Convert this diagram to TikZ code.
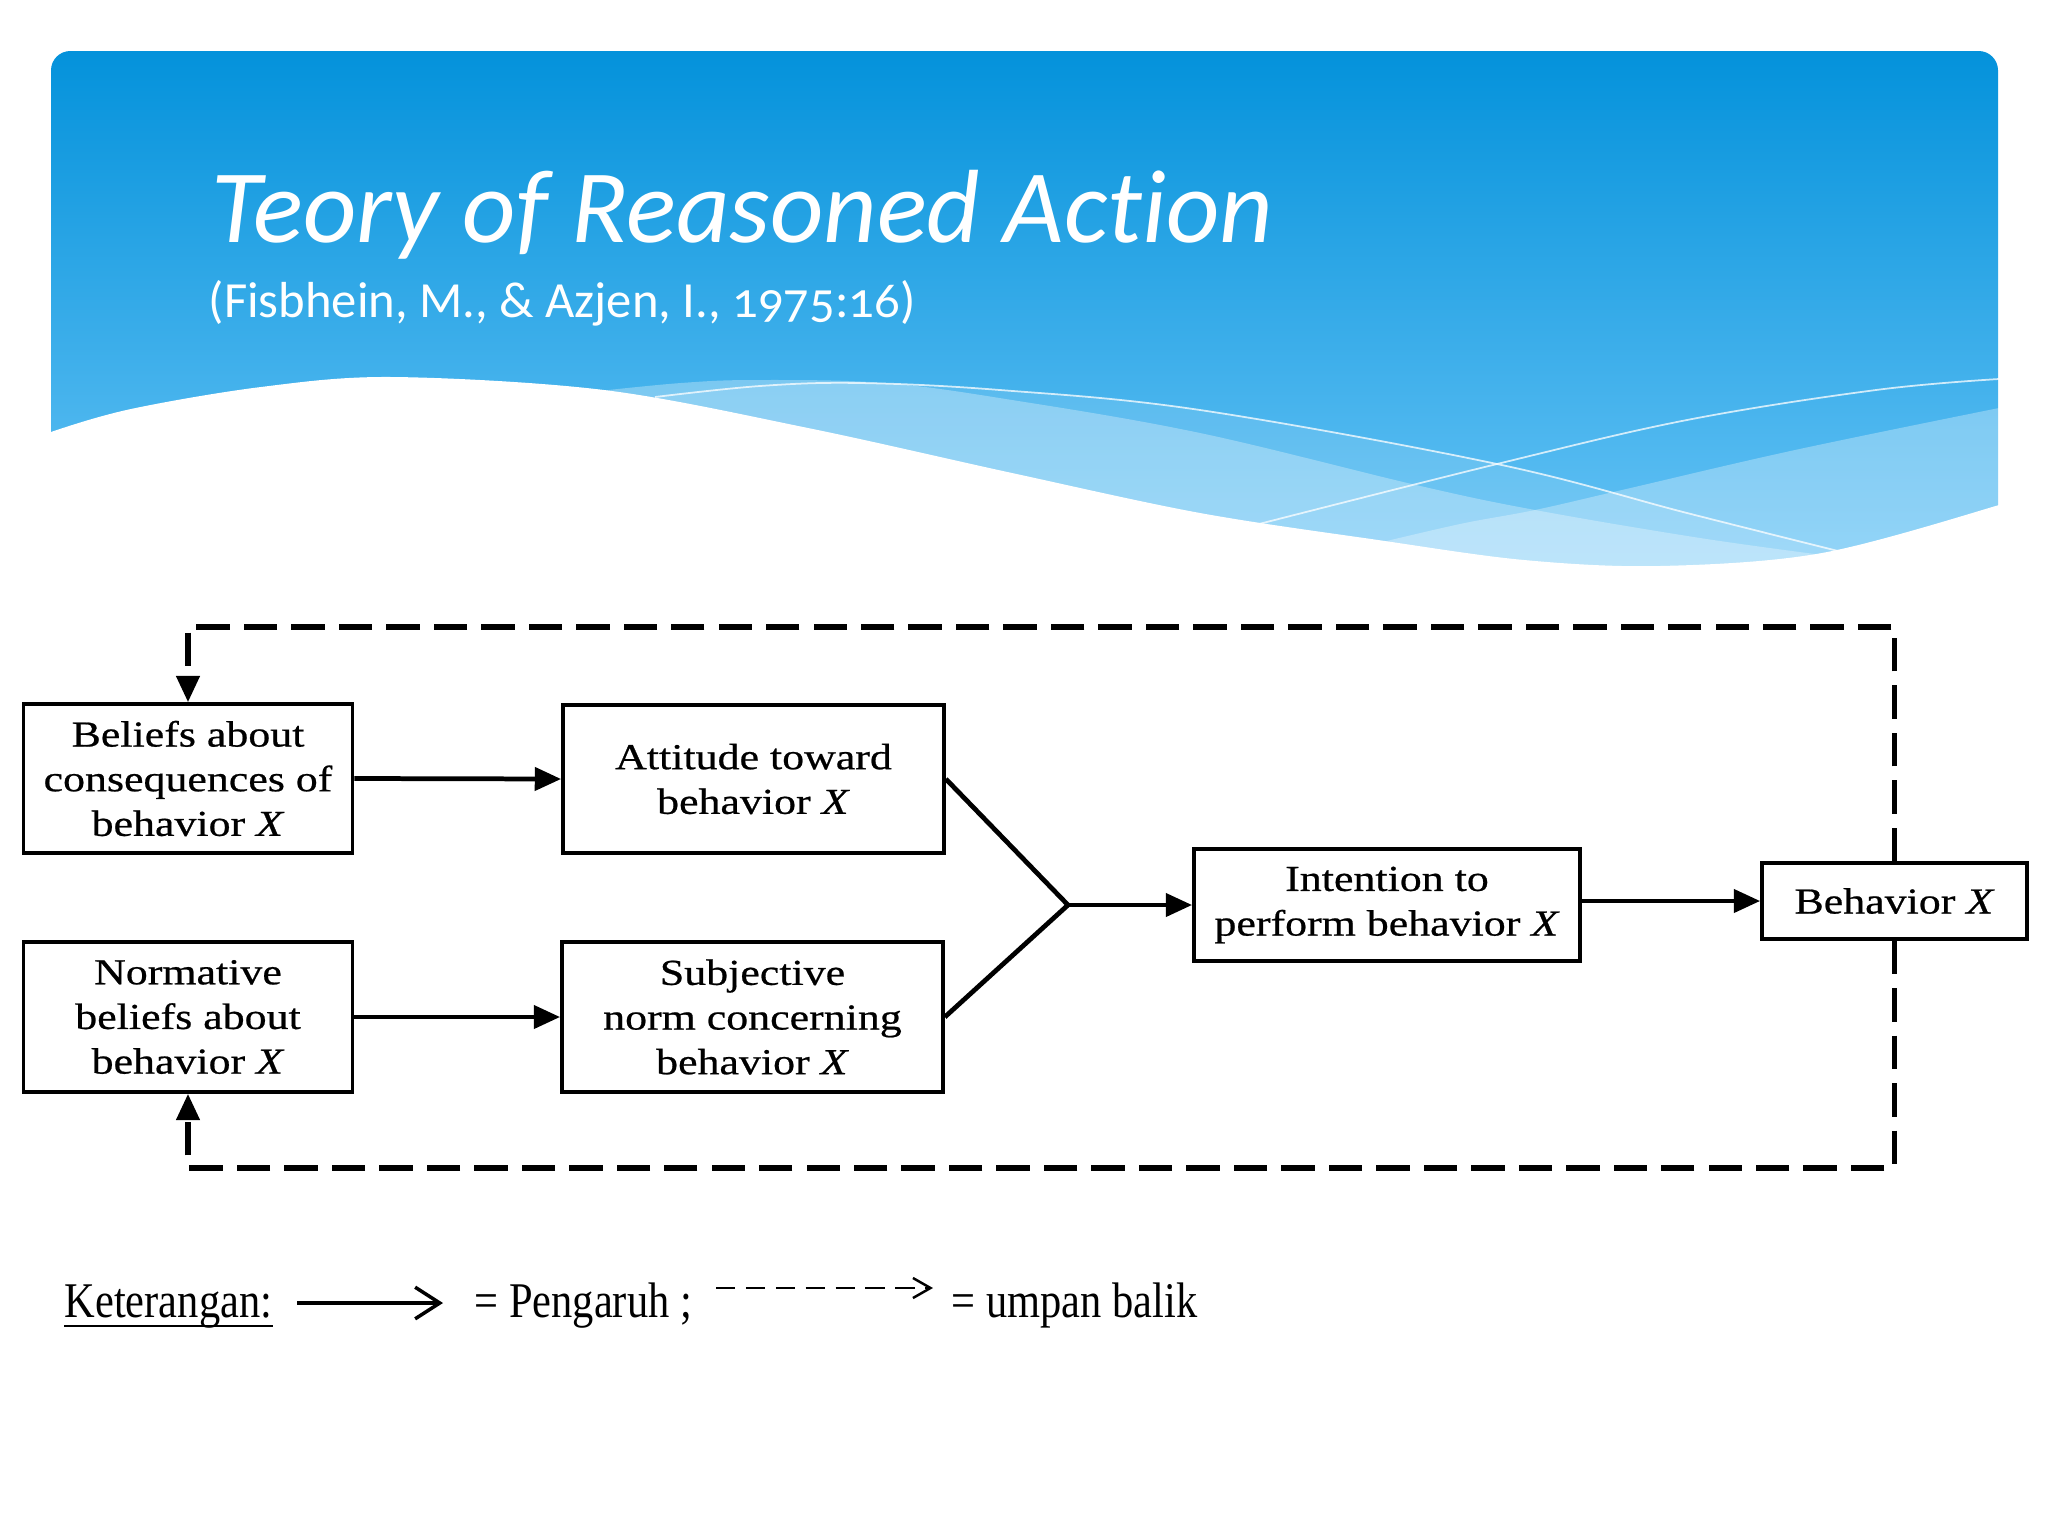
\documentclass[tikz,border=0pt]{standalone}
\usepackage{fontspec}
\usetikzlibrary{arrows.meta,calc}
\newfontfamily\diagfont[FakeStretch=1.2,FakeBold=0.6]{Liberation Serif}
\newfontfamily\legfont[FakeStretch=0.85]{Liberation Serif}
\newfontfamily\ttlfont[Ligatures=NoCommon]{Carlito}
\newfontfamily\subfont[Numbers=OldStyle,Ligatures=NoCommon]{Carlito}
\definecolor{hdtop}{RGB}{4,146,219}
\definecolor{hdbot}{RGB}{108,198,247}
\begin{document}
\begin{tikzpicture}[x=0.01cm,y=-0.01cm,
  box/.style={draw,line width=1pt,inner sep=0pt,align=center,
    font={\diagfont\fontsize{10.4pt}{12.7pt}\selectfont}},
  arr/.style={line width=1.35pt,-{Triangle[length=7.5pt,width=6.5pt]}},
  plainline/.style={line width=1.35pt},
  fb/.style={line width=1.45pt,dash pattern=on 9.5pt off 4pt},
  legtext/.style={inner sep=0pt,anchor=base west,font={\legfont\fontsize{14.2pt}{16pt}\selectfont}},
  band/.style={white,opacity=0.3},
  thin/.style={white,opacity=0.75,line width=0.5pt}]
\useasboundingbox (0,0) rectangle (2048,1536);
\fill[white] (0,0) rectangle (2048,1536);
% header
\shade[top color=hdtop,bottom color=hdbot,rounded corners=5.5pt] (51,600) -- (51,51) -- (1998,51) -- (1998,600) -- cycle;
% bands
\fill[band,opacity=0.12] plot[smooth,tension=0.6] coordinates {(655,397) (760,386) (859,383) (1000,390) (1200,410) (1497,464) (1687,513) (1838,551)} -- (1838,640) -- (655,640) -- cycle;
\fill[band] plot[smooth,tension=0.6] coordinates {(590,392) (681,383) (757,380) (885,383) (1012,400) (1200,433) (1416,485) (1535,510) (1700,538) (1830,556)} -- (1830,640) -- (590,640) -- cycle;
\fill[band] plot[smooth,tension=0.6] coordinates {(1370,545) (1460,524) (1535,510) (1622,490) (1795,450) (1999,408)} -- (1999,640) -- (1370,640) -- cycle;
\draw[thin] plot[smooth,tension=0.6] coordinates {(655,397) (760,386) (859,383) (1000,390) (1200,410) (1497,464) (1687,513) (1838,551)};
\draw[thin] plot[smooth,tension=0.6] coordinates {(1259,524) (1497,464) (1687,420) (1876,390) (1999,379)};
% white wave
\fill[white] plot[smooth,tension=0.55] coordinates {(40,440) (51,432) (131,409) (261,387) (392,377) (604,390) (808,428) (1012,473) (1200,513) (1378,540) (1524,560) (1660,566) (1822,553) (1999,505) (2010,498)} -- (2020,650) -- (30,650) -- cycle;
% titles
\node[anchor=base west,inner sep=0pt,text=white,font={\ttlfont\itshape\fontsize{29.6pt}{32pt}\selectfont}] (title) at (211,242) {Teory of Reasoned Action};
\node[anchor=base west,inner sep=0pt,text=white,font={\subfont\fontsize{14.4pt}{16pt}\selectfont}] (subtitle) at (208,317) {(Fisbhein, M., \& Azjen, I., 1975:16)};
% boxes
\node[box,minimum width=3.29cm,minimum height=1.49cm] (bel) at (188,778.5) {Beliefs about\\consequences of\\behavior \textit{X}};
\node[box,minimum width=3.81cm,minimum height=1.48cm] (att) at (753.5,779) {Attitude toward\\behavior \textit{X}};
\node[box,minimum width=3.29cm,minimum height=1.50cm] (nor) at (188,1017) {Normative\\beliefs about\\behavior \textit{X}};
\node[box,minimum width=3.81cm,minimum height=1.50cm] (sub) at (752.5,1017) {Subjective\\norm concerning\\behavior \textit{X}};
\node[box,minimum width=3.86cm,minimum height=1.12cm] (int) at (1387,905) {Intention to\\perform behavior \textit{X}};
\node[box,minimum width=2.65cm,minimum height=0.76cm] (beh) at (1894.5,901) {Behavior \textit{X}};
\coordinate (j) at (1068,905);
% connectors
\draw[arr] (bel.east) -- (att.west);
\draw[arr] (nor.east) -- (sub.west);
\draw[plainline] (att.east) -- (j) -- (sub.east);
\draw[arr] (j) -- (int.west);
\draw[arr] (int.east |- beh.west) -- (beh.west);
\coordinate (tl) at (bel.north |- 0,627);
\coordinate (bl) at (nor.south |- 0,1168);
\draw[fb,-{Triangle[length=7.5pt,width=6.5pt]}] (beh.north) |- (tl) -- (bel.north);
\draw[fb,-{Triangle[length=7.5pt,width=6.5pt]}] (beh.south) |- (bl) -- (nor.south);
% legend
\node[legtext] (ket) at (64,1317) {Keterangan:};
\draw[line width=0.6pt] ([yshift=-2.6pt]ket.base west) -- ([yshift=-2.6pt]ket.base east);
\coordinate (s1) at (297,1303);
\coordinate (s2) at (443,1303);
\draw[line width=1pt,-{Straight Barb[length=7pt,width=9pt,line width=1pt]}] (s1) -- (s2);
\node[legtext] (peng) at (474,1317) {= Pengaruh ;};
\coordinate (d1) at (716,1288);
\coordinate (d2) at (933,1288);
\draw[line width=0.7pt,dash pattern=on 5.5pt off 3pt,-{Straight Barb[length=5pt,width=5.7pt,line width=0.7pt]}] (d1) -- (d2);
\node[legtext] (umpan) at (951,1317) {= umpan balik};
\end{tikzpicture}
\end{document}
